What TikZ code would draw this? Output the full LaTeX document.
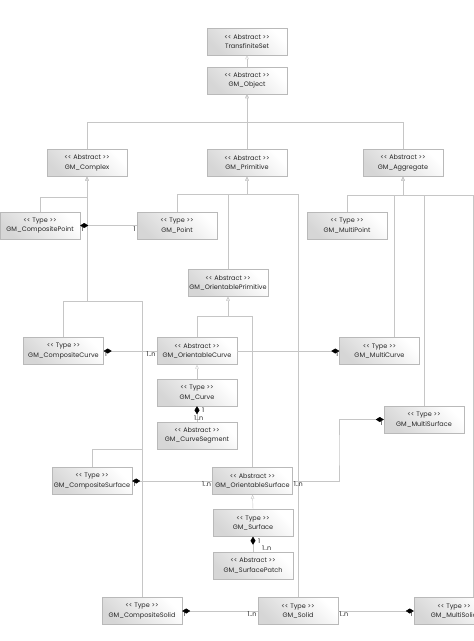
\documentclass[tikz,border=0pt]{standalone}
\usepackage{fontspec}
\setmainfont{Poppins}
\usetikzlibrary{arrows.meta}

\tikzset{
  cls/.style={draw=gray!55, shading=axis, top color=white, bottom color=gray!32,
    shading angle=-45, minimum width=80pt, minimum height=27pt, inner sep=0pt,
    align=center, text=black!85, font=\fontsize{6.5}{9.5}\selectfont},
  gen/.style={draw=gray!45, -{Triangle[open,length=4pt,width=3.5pt]}},
  comp/.style={draw=gray!45, {Diamond[length=8pt,width=5pt,color=black,fill=black]}-},
  mult/.style={inner sep=1pt, text=black!85, font=\fontsize{6.5}{7}\selectfont}
}

\begin{document}
\begin{tikzpicture}[x=1pt,y=-1pt]
		\useasboundingbox (0,0) rectangle (474,641);
		\def\abst{<\kern0pt< Abstract >\kern0pt>}
		\def\type{<\kern0pt< Type >\kern0pt>}
		%Classes
		\node[cls] (tset) at (247,41.5) {\abst\\TransfiniteSet};
		\node[cls] (obj) at (247,80.5) {\abst\\GM\_Object};
		\node[cls] (complex) at (87,163) {\abst\\GM\_Complex};
		\node[cls] (prim) at (247,163) {\abst\\GM\_Primitive};
		\node[cls] (aggr) at (403,163) {\abst\\GM\_Aggregate};
		\node[cls] (cpoint) at (40,225.5) {\type\\GM\_CompositePoint};
		\node[cls] (point) at (177,225.5) {\type\\GM\_Point};
		\node[cls] (mpoint) at (347,225.5) {\type\\GM\_MultiPoint};
		\node[cls] (oprim) at (228,283) {\abst\\GM\_OrientablePrimitive};
		\node[cls] (ccurve) at (63.5,351) {\type\\GM\_CompositeCurve};
		\node[cls] (ocurve) at (197,351) {\abst\\GM\_OrientableCurve};
		\node[cls] (mcurve) at (379.5,351) {\type\\GM\_MultiCurve};
		\node[cls] (curve) at (197,392.5) {\type\\GM\_Curve};
		\node[cls] (cseg) at (197,435.5) {\abst\\GM\_CurveSegment};
		\node[cls] (msurf) at (424,419.5) {\type\\GM\_MultiSurface};
		\node[cls] (csurf) at (92,481) {\type\\GM\_CompositeSurface};
		\node[cls] (osurf) at (252.5,481) {\abst\\GM\_OrientableSurface};
		\node[cls] (surf) at (253,523) {\type\\GM\_Surface};
		\node[cls] (spatch) at (253,565.5) {\abst\\GM\_SurfacePatch};
		\node[cls] (csolid) at (142,611) {\type\\GM\_CompositeSolid};
		\node[cls] (solid) at (298,611) {\type\\GM\_Solid};
		\node[cls] (msolid) at (454,611) {\type\\GM\_MultiSolid};
		%Generalisations
		\coordinate (jobj) at (247,122);
		\coordinate (jcx) at (87,197);
		\coordinate (jcx2) at (87,301);
		\coordinate (jcs) at (142,449);
		\coordinate (jpr) at (247,194);
		\coordinate (jag) at (403,195);
		\coordinate (jop) at (228,316);
		\draw[gen] (obj.north) -- (tset.south);
		\draw[gen] (prim.north) -- (obj.south);
		\draw[gen] (complex.north) |- (jobj) -- (obj.south);
		\draw[gen] (aggr.north) |- (jobj) -- (obj.south);
		\draw[gen] (cpoint.north) |- (jcx) -- (complex.south);
		\draw[gen] (ccurve.north) |- (jcx2) -- (complex.south);
		\draw[gen] (csolid.north) |- (jcx2) -- (complex.south);
		\draw[gen] (csurf.north) |- (jcs) |- (jcx2) -- (complex.south);
		\draw[gen] (point.north) |- (jpr) -- (prim.south);
		\draw[gen] (oprim.north) |- (jpr) -- (prim.south);
		\draw[gen] (solid.north) |- (jpr) -- (prim.south);
		\draw[gen] (mpoint.north) |- (jag) -- (aggr.south);
		\draw[gen] ([xshift=15pt]mcurve.north) |- (jag) -- (aggr.south);
		\draw[gen] (msurf.north) |- (jag) -- (aggr.south);
		\draw[gen] ([xshift=19pt]msolid.north) |- (jag) -- (aggr.south);
		\draw[gen] (ocurve.north) |- (jop) -- (oprim.south);
		\draw[gen] (osurf.north) |- (jop) -- (oprim.south);
		\draw[gen] (curve.north) -- (ocurve.south);
		\draw[gen] (surf.north) -- (osurf.south);
		%Compositions
		\coordinate (jms) at (339,450);
		\draw[comp] (cpoint.east) -- (point.west);
		\draw[comp] (ccurve.east) -- (ocurve.west);
		\draw[comp] (mcurve.west) -- (ocurve.east);
		\draw[comp] (curve.south) -- (cseg.north);
		\draw[comp] (msurf.west) -| (jms) |- (osurf.east);
		\draw[comp] (csurf.east) -- (osurf.west);
		\draw[comp] (surf.south) -- (spatch.north);
		\draw[comp] (csolid.east) -- (solid.west);
		\draw[comp] (msolid.west) -- (solid.east);
		%Multiplicities
		\node[mult,below right] (m1) at (cpoint.east) {1};
		\node[mult,below left] (m2) at (point.west) {1};
		\node[mult,below right] (m3) at (ccurve.east) {1};
		\node[mult,below left] (m4) at (ocurve.west) {1..n};
		\node[mult,below left] (m5) at (mcurve.west) {1};
		\node[mult,anchor=west] (m6) at ([xshift=4pt,yshift=-4pt]curve.south) {1};
		\node[mult,anchor=south west] (m7) at ([xshift=-4pt]cseg.north) {1..n};
		\node[mult,below left] (m8) at (msurf.west) {1};
		\node[mult,below right] (m9) at (osurf.east) {1..n};
		\node[mult,below right] (m10) at (csurf.east) {1};
		\node[mult,below left] (m11) at (osurf.west) {1..n};
		\node[mult,anchor=west] (m12) at ([xshift=4pt,yshift=-4pt]surf.south) {1};
		\node[mult,anchor=south west] (m13) at ([xshift=8pt]spatch.north) {1..n};
		\node[mult,below right] (m14) at (csolid.east) {1};
		\node[mult,below left] (m15) at (solid.west) {1..n};
		\node[mult,below right] (m16) at (solid.east) {1..n};
		\node[mult,below left] (m17) at (msolid.west) {1};
		\end{tikzpicture}
\end{document}
